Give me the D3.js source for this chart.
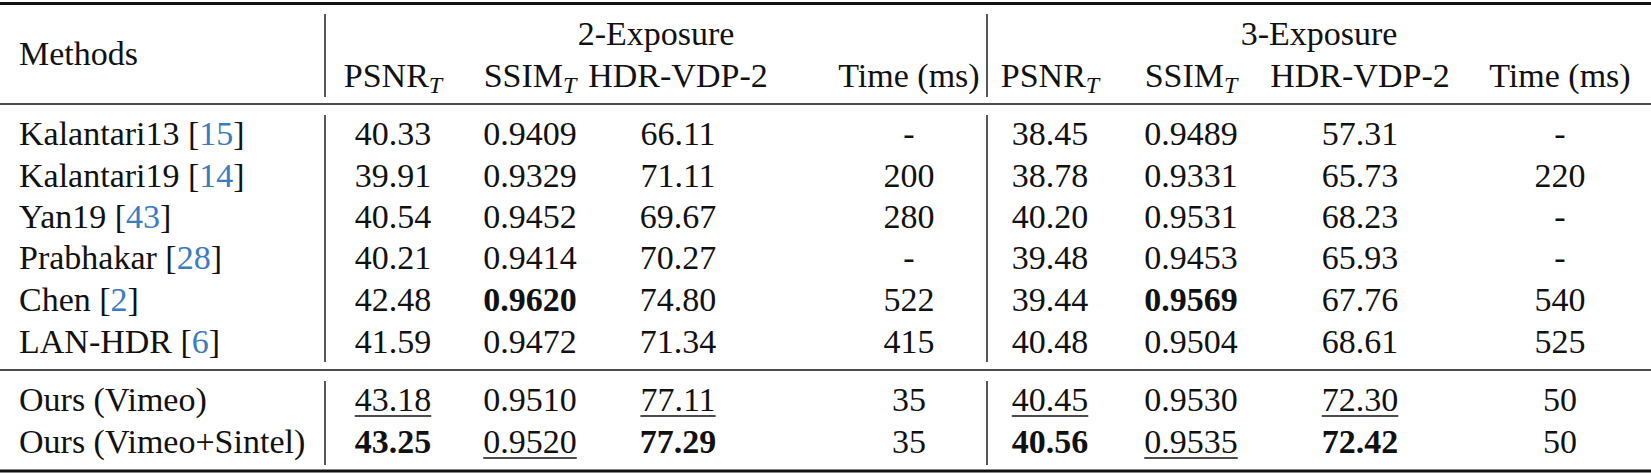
<!DOCTYPE html>
<html><head><meta charset="utf-8">
<script src="https://cdn.jsdelivr.net/npm/d3@7"></script>
<style>body{margin:0;background:#fff}text{font-family:"Liberation Serif","Times New Roman",serif;font-size:34px;fill:#111}</style>
</head><body><svg id="c" width="1651" height="474"></svg>
<script>
const methods = ["Kalantari13 ","Kalantari19 ","Yan19 ","Prabhakar ","Chen ","LAN-HDR ","Ours (Vimeo)","Ours (Vimeo+Sintel)"];
const cites = ["15","14","43","28","2","6",null,null];
const groups = ["2-Exposure","3-Exposure"];
const metrics = [["PSNR","T"],["SSIM","T"],["HDR-VDP-2",null],["Time (ms)",null]];
const psnr2 = ["40.33","39.91","40.54","40.21","42.48","41.59","43.18","43.25"];
const ssim2 = ["0.9409","0.9329","0.9452","0.9414","0.9620","0.9472","0.9510","0.9520"];
const vdp2  = ["66.11","71.11","69.67","70.27","74.80","71.34","77.11","77.29"];
const time2 = ["-","200","280","-","522","415","35","35"];
const psnr3 = ["38.45","38.78","40.20","39.48","39.44","40.48","40.45","40.56"];
const ssim3 = ["0.9489","0.9331","0.9531","0.9453","0.9569","0.9504","0.9530","0.9535"];
const vdp3  = ["57.31","65.73","68.23","65.93","67.76","68.61","72.30","72.42"];
const time3 = ["-","220","-","-","540","525","50","50"];
const style2 = [["","","",""],["","","",""],["","","",""],["","","",""],["","b","",""],["","","",""],["u","","u",""],["b","u","b",""]];
const style3 = [["","","",""],["","","",""],["","","",""],["","","",""],["","b","",""],["","","",""],["u","","u",""],["b","u","b",""]];

const svg = d3.select("#c");
const colX = d3.scaleOrdinal().domain(d3.range(8)).range([393,530,678,909,1050,1191,1360,1560]);
const rowY = d3.scaleOrdinal().domain(d3.range(8)).range([145,187,228,269,311,353,411,453]);
const line=(x1,y1,x2,y2,w)=>svg.append("line").attr("x1",x1).attr("y1",y1).attr("x2",x2).attr("y2",y2).attr("stroke","#111").attr("stroke-width",w);
line(0,3.5,1651,3.5,3); line(0,104,1651,104,1.6); line(0,370,1651,370,1.6); line(0,471,1651,471,3);
[325,987].forEach(x=>{line(x,14,x,97,1.4);line(x,115,x,362,1.4);line(x,381,x,465,1.4);});

svg.append("text").attr("x",19).attr("y",65).text("Methods");
groups.forEach((g,i)=>svg.append("text").attr("x",[656,1319][i]).attr("y",45).attr("text-anchor","middle").text(g));
for(let c=0;c<8;c++){
  const m=metrics[c%4];
  const t=svg.append("text").attr("x",colX(c)).attr("y",87).attr("text-anchor","middle");
  t.append("tspan").text(m[0]);
  if(m[1]) t.append("tspan").attr("dy",6).attr("font-style","italic").attr("font-size","24px").text(m[1]);
}
methods.forEach((m,i)=>{
  const t=svg.append("text").attr("x",19).attr("y",rowY(i));
  t.append("tspan").text(m);
  if(cites[i]){t.append("tspan").text("[");t.append("tspan").style("fill","#3b7bbf").text(cites[i]);t.append("tspan").text("]");}
});
const cols=[psnr2,ssim2,vdp2,time2,psnr3,ssim3,vdp3,time3];
cols.forEach((arr,c)=>arr.forEach((v,i)=>{
  const st=(c<4?style2:style3)[i][c%4];
  const t=svg.append("text").attr("x",colX(c)).attr("y",rowY(i)).attr("text-anchor","middle")
    .attr("font-weight",st==="b"?"bold":null).text(v);
  if(st==="u"){const bb=t.node().getBBox();line(bb.x,rowY(i)+5,bb.x+bb.width,rowY(i)+5,1.5);}
}));
</script></body></html>
